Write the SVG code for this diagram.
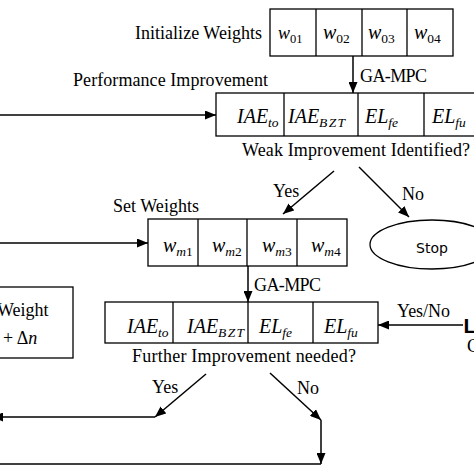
<svg xmlns="http://www.w3.org/2000/svg" width="474" height="474" viewBox="0 0 474 474">
<style>
.t{font-family:"Liberation Serif","Times New Roman",serif;font-size:18px;fill:#000}
.m{font-family:"Liberation Serif","Times New Roman",serif;font-style:italic;font-size:20px;fill:#000}
.s{font-size:13.5px}
.u{font-style:normal}
.box{fill:#fff;stroke:#000;stroke-width:1.3}
.ln{fill:none;stroke:#000;stroke-width:1.5}
.dv{stroke:#000;stroke-width:1.3}
.arr{marker-end:url(#ah)}
</style>
<defs>
<marker id="ah" markerUnits="userSpaceOnUse" markerWidth="11" markerHeight="9" refX="11" refY="4.5" orient="auto">
<path d="M0,0 L11,4.5 L0,9 z" fill="#000"/>
</marker>
</defs>
<rect width="474" height="474" fill="#fff"/>

<g id="connectors">
<line class="ln arr" x1="353" y1="56" x2="353" y2="93"/>
<line class="ln arr" x1="0" y1="115" x2="216" y2="115"/>
<line class="ln arr" x1="334" y1="171" x2="283" y2="214"/>
<line class="ln arr" x1="359" y1="167" x2="409" y2="217"/>
<line class="ln arr" x1="0" y1="243" x2="148" y2="243"/>
<line class="ln arr" x1="248" y1="266" x2="248" y2="302"/>
<line class="ln arr" x1="463" y1="325" x2="378" y2="325"/>
<line class="ln arr" x1="206" y1="374" x2="155" y2="417"/>
<line class="ln arr" x1="155" y1="417" x2="-8" y2="417"/>
<line class="ln arr" x1="270" y1="373" x2="321" y2="420"/>
<line class="ln arr" x1="321" y1="420" x2="321" y2="464"/>
<line class="ln" x1="321" y1="464" x2="0" y2="464"/>
</g>

<g id="labels">
<text class="t" x="360" y="82" textLength="67">GA-MPC</text>
<text class="t" x="254" y="291" textLength="67">GA-MPC</text>
<text class="t" x="273" y="197">Yes</text>
<text class="t" x="402" y="200">No</text>
<text class="t" x="397" y="317" textLength="53">Yes/No</text>
<text class="t" x="152" y="393">Yes</text>
<text class="t" x="297" y="394">No</text>
</g>

<g id="init-weights">
<text class="t" x="135" y="39" textLength="127">Initialize Weights</text>
<rect class="box" x="270" y="9" width="183" height="47"/>
<line class="dv" x1="316" y1="9" x2="316" y2="56"/>
<line class="dv" x1="362" y1="9" x2="362" y2="56"/>
<line class="dv" x1="407" y1="9" x2="407" y2="56"/>
<text class="m" x="278" y="39" style="font-size:18px">w<tspan class="s u" dy="4" style="font-size:12.5px">01</tspan></text>
<text class="m" x="323" y="39">w<tspan class="s u" dy="4">02</tspan></text>
<text class="m" x="368" y="39">w<tspan class="s u" dy="4">03</tspan></text>
<text class="m" x="414" y="39">w<tspan class="s u" dy="4">04</tspan></text>
</g>

<g id="performance">
<text class="t" x="73" y="86" textLength="195">Performance Improvement</text>
<rect class="box" x="216" y="93" width="290" height="43"/>
<line class="dv" x1="284" y1="93" x2="284" y2="136"/>
<line class="dv" x1="358" y1="93" x2="358" y2="136"/>
<line class="dv" x1="424" y1="93" x2="424" y2="136"/>
<text class="m" x="237" y="123">IAE<tspan class="s" dy="4">to</tspan></text>
<text class="m" x="288" y="123">IAE<tspan class="s" dy="4" textLength="26">BZT</tspan></text>
<text class="m" x="365" y="123">EL<tspan class="s" dy="4">fe</tspan></text>
<text class="m" x="432" y="123">EL<tspan class="s" dy="4">fu</tspan></text>
<text class="t" x="242" y="156" textLength="228">Weak Improvement Identified?</text>
</g>

<g id="stop">
<ellipse cx="432" cy="244.5" rx="62" ry="24.5" fill="#fff" stroke="#000" stroke-width="1.3"/>
<text x="432" y="253" text-anchor="middle" style="font-family:'DejaVu Sans','Liberation Sans',sans-serif;font-size:14px">Stop</text>
</g>

<g id="set-weights">
<text class="t" x="113" y="212" textLength="86">Set Weights</text>
<rect class="box" x="148" y="219" width="199" height="47"/>
<line class="dv" x1="198" y1="219" x2="198" y2="266"/>
<line class="dv" x1="247" y1="219" x2="247" y2="266"/>
<line class="dv" x1="297" y1="219" x2="297" y2="266"/>
<text class="m" x="163" y="252">w<tspan class="s" dy="4">m</tspan><tspan class="s u">1</tspan></text>
<text class="m" x="212" y="252">w<tspan class="s" dy="4">m</tspan><tspan class="s u">2</tspan></text>
<text class="m" x="262" y="252">w<tspan class="s" dy="4">m</tspan><tspan class="s u">3</tspan></text>
<text class="m" x="311" y="252">w<tspan class="s" dy="4">m</tspan><tspan class="s u">4</tspan></text>
</g>

<g id="update-weight">
<rect class="box" x="-10" y="287" width="83" height="71"/>
<text class="t" x="-3" y="316">Weight</text>
<text class="t" x="3" y="344">+ Δ<tspan style="font-style:italic">n</tspan></text>
</g>

<g id="further">
<rect class="box" x="105" y="302" width="273" height="41"/>
<line class="dv" x1="173" y1="302" x2="173" y2="343"/>
<line class="dv" x1="248" y1="302" x2="248" y2="343"/>
<line class="dv" x1="313" y1="302" x2="313" y2="343"/>
<text class="m" x="127" y="333">IAE<tspan class="s" dy="4">to</tspan></text>
<text class="m" x="187" y="333">IAE<tspan class="s" dy="4" textLength="26">BZT</tspan></text>
<text class="m" x="259" y="333">EL<tspan class="s" dy="4">fe</tspan></text>
<text class="m" x="324" y="333">EL<tspan class="s" dy="4">fu</tspan></text>
<text class="t" x="132" y="362" textLength="224">Further Improvement needed?</text>
</g>

<g id="right-edge">
<text x="463.5" y="333" style="font-family:'Liberation Sans',Arial,sans-serif;font-weight:bold;font-size:21px">L</text>
<text class="t" x="467" y="352">C</text>
</g>
</svg>
